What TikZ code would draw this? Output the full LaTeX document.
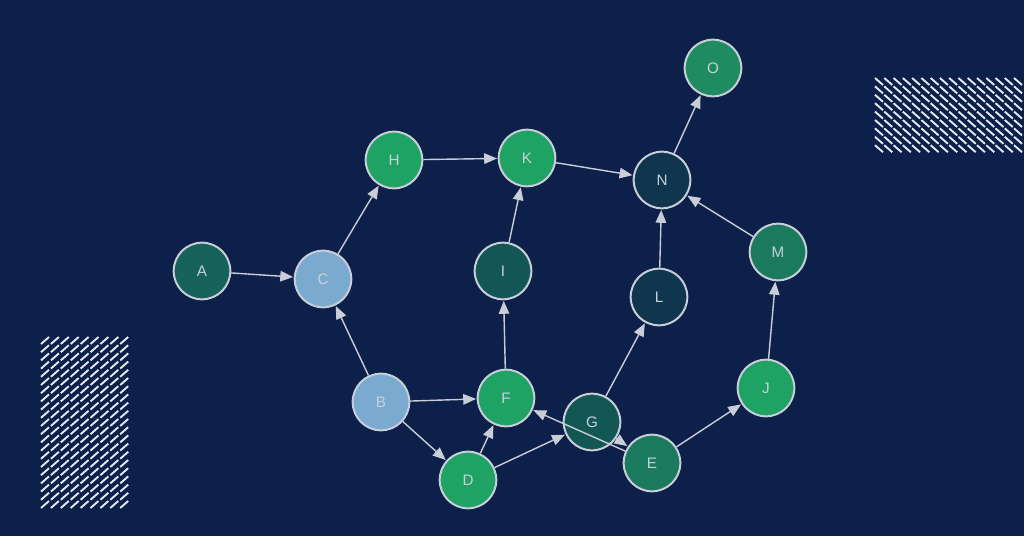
\documentclass[tikz,border=0pt]{standalone}
\usepackage{fontspec}
\setmainfont{Liberation Sans}
\usetikzlibrary{arrows.meta}
\definecolor{bgnavy}{HTML}{0D2049}
\definecolor{rimgray}{HTML}{C9CDD8}
\definecolor{txtgray}{HTML}{C8D0DC}
\definecolor{hatchwhite}{HTML}{E6EAF2}
\definecolor{cblue}{HTML}{7AAAD0}
\definecolor{cgreen}{HTML}{1FA365}
\definecolor{cmint}{HTML}{1B7A5E}
\definecolor{cjade}{HTML}{1E8C60}
\definecolor{cteal}{HTML}{17625A}
\definecolor{cpine}{HTML}{125754}
\definecolor{cdeep}{HTML}{0F354F}

\begin{document}
\begin{tikzpicture}[x=0.03cm,y=-0.03cm]
\tikzstyle{every node}=[circle, draw=rimgray, line width=1.7pt, minimum size=1.7cm, inner sep=0pt, text=txtgray, font=\fontsize{13}{15}\selectfont]
\tikzstyle{edge}=[draw=rimgray, line width=1.2pt, -{Triangle[length=11pt,width=9pt]}, shorten >=0.5pt]
\tikzstyle{hatch}=[draw=hatchwhite, line width=1.6pt]
\fill[bgnavy] (0,0) rectangle (1024,536);
\useasboundingbox (0,0) rectangle (1024,536);
\foreach \i in {0,...,15} \foreach \j in {0,...,8}
  \draw[hatch] (875+9.27*\i,78+8.4*\j) -- +(8,7);
\foreach \i in {0,...,8} \foreach \j in {0,...,20}
  \draw[hatch] (41+9.9*\i,344+8.2*\j) -- +(8,-7);
\draw (202,271) node (A) [fill=cteal] {A};
\draw (323,279) node (C) [fill=cblue] {C};
\draw (394,160) node (H) [fill=cgreen] {H};
\draw (527,158) node (K) [fill=cgreen] {K};
\draw (662,180) node (N) [fill=cdeep] {N};
\draw (713,68) node (O) [fill=cjade] {O};
\draw (778,252) node (M) [fill=cmint] {M};
\draw (659,297) node (L) [fill=cdeep] {L};
\draw (503,271) node (I) [fill=cpine] {I};
\draw (766,388) node (J) [fill=cgreen] {J};
\draw (381,402) node (B) [fill=cblue] {B};
\draw (506,398) node (F) [fill=cgreen] {F};
\draw (468,480) node (D) [fill=cgreen] {D};
\draw (592,422) node (G) [fill=cpine] {G};
\draw (652,463) node (E) [fill=cmint] {E};
\draw[edge] (A) -- (C);
\draw[edge] (C) -- (H);
\draw[edge] (H) -- (K);
\draw[edge] (K) -- (N);
\draw[edge] (N) -- (O);
\draw[edge] (M) -- (N);
\draw[edge] (L) -- (N);
\draw[edge] (I) -- (K);
\draw[edge] (F) -- (I);
\draw[edge] (B) -- (C);
\draw[edge] (B) -- (F);
\draw[edge] (B) -- (D);
\draw[edge] (D) -- (F);
\draw[edge] (D) -- (G);
\draw[edge] (G) -- (L);
\draw[edge] (G) -- (E);
\draw[edge] (E) -- (F);
\draw[edge] (E) -- (J);
\draw[edge] (J) -- (M);
\end{tikzpicture}
\end{document}
